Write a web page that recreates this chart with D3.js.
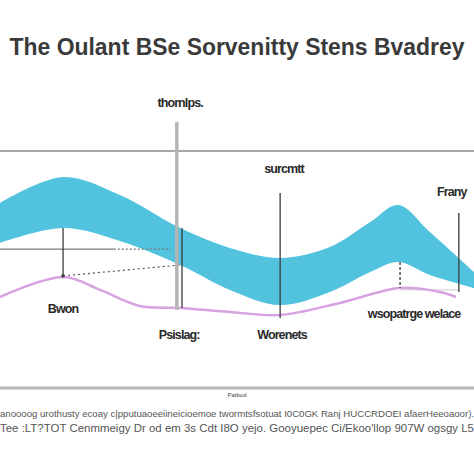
<!DOCTYPE html>
<html>
<head>
<meta charset="utf-8">
<script src="https://cdn.jsdelivr.net/npm/d3@7"></script>
<style>
  body { margin: 0; background: #fff; }
  svg { display: block; font-family: "Liberation Sans", Arial, sans-serif; }
</style>
</head>
<body>
<svg id="visu" width="474" height="474"></svg>
<script>
// band (upper / lower edge) and the pink series, x in 0..100, y in 0..100
var bandX     = [0, 13.3, 25.3, 38, 48.5, 59.1, 69.6, 78.1, 84, 90.7, 100];
var bandUpper = [78.1, 89.0, 81.4, 67.5, 59.1, 54.9, 59.5, 70.0, 77.2, 65.8, 48.9];
var bandLower = [61.2, 67.5, 62.0, 51.9, 41.4, 35.0, 40.5, 48.9, 53.2, 47.7, 42.2];

var pinkX = [0, 13.3, 21.1, 29.5, 38, 48.5, 59.1, 71.7, 84.4, 92.8, 96.2];
var pinkY = [38.4, 46.8, 41.4, 34.6, 33.8, 32.1, 30.8, 35.9, 42.2, 40.5, 38.4];

// vertical markers: x, from, to
var markX    = [37.3, 38.4, 59.1, 96.8, 13.3, 84.4];
var markFrom = [112.2, 67.5, 82.3, 73.8, 67.5, 53.2];
var markTo   = [32.9, 33.8, 29.5, 40.5, 47.3, 42.2];
var markKind = ["gray", "dark", "dark", "dark", "dark", "dash"];

var labels  = ["thornlps.", "surcmtt", "Frany", "Bwon", "Psislag:", "Worenets", "wsopatrge welace"];
var labelX  = [38, 59.9, 92.2, 13.3, 37.8, 59.5, 77.6];
var labelY  = [118.5, 90.7, 81.0, 31.6, 20.7, 20.7, 29.5];
var labelAt = ["middle", "middle", "start", "middle", "middle", "middle", "start"];

var titleText = "The Oulant BSe Sorvenitty Stens Bvadrey";
var footLines = [
  "anoooog urothusty ecoay c|pputuaoeeiineicioemoe twormtsfsotuat I0C0GK Ranj HUCCRDOEI afaerHeeoaoor).",
  "Tee :LT?TOT Cenmmeigy  Dr od em 3s Cdt I8O yejo.  Gooyuepec Ci/Ekoo'llop 907W ogsgy  L5"
];

var vis = d3.select("#visu"),
    WIDTH = 474,
    HEIGHT = 474;

var xScale = d3.scaleLinear().domain([0, 100]).range([0, WIDTH]),
    yScale = d3.scaleLinear().domain([0, 100]).range([388, 151]);

// title
vis.append("text")
  .attr("x", 237).attr("y", 55)
  .attr("text-anchor", "middle")
  .attr("textLength", 455)
  .attr("lengthAdjust", "spacingAndGlyphs")
  .attr("font-size", 23).attr("font-weight", "bold")
  .attr("fill", "#3a3a3a")
  .text(titleText);

// top and bottom rules
vis.append("line")
  .attr("x1", 0).attr("x2", WIDTH)
  .attr("y1", yScale(100)).attr("y2", yScale(100))
  .attr("stroke", "#a8a8a8").attr("stroke-width", 2);
vis.append("line")
  .attr("x1", 0).attr("x2", WIDTH)
  .attr("y1", yScale(0)).attr("y2", yScale(0))
  .attr("stroke", "#b8b8b8").attr("stroke-width", 3);

// blue band
var band = bandX.map(function(x, i) { return { x: x, hi: bandUpper[i], lo: bandLower[i] }; });
var areaGen = d3.area()
  .x(function(d) { return xScale(d.x); })
  .y0(function(d) { return yScale(d.lo); })
  .y1(function(d) { return yScale(d.hi); })
  .curve(d3.curveCatmullRom);
vis.append("path")
  .attr("d", areaGen(band))
  .attr("fill", "#52c3de");

// helper lines left side
vis.append("line")
  .attr("x1", xScale(0)).attr("x2", xScale(24))
  .attr("y1", yScale(58.6)).attr("y2", yScale(58.6))
  .attr("stroke", "#555").attr("stroke-width", 1);
vis.append("line")
  .attr("x1", xScale(24)).attr("x2", xScale(36))
  .attr("y1", yScale(58.6)).attr("y2", yScale(58.6))
  .attr("stroke", "#777").attr("stroke-width", 1.2)
  .attr("stroke-dasharray", "2,2");
vis.append("line")
  .attr("x1", xScale(13.3)).attr("x2", xScale(38))
  .attr("y1", yScale(47.3)).attr("y2", yScale(51.9))
  .attr("stroke", "#555").attr("stroke-width", 1.2)
  .attr("stroke-dasharray", "2,3");
vis.append("line")
  .attr("x1", xScale(84.4)).attr("x2", xScale(96.8))
  .attr("y1", yScale(41.4)).attr("y2", yScale(41.4))
  .attr("stroke", "#ccc").attr("stroke-width", 1);

// pink line
var pink = pinkX.map(function(x, i) { return { x: x, y: pinkY[i] }; });
var lineGen = d3.line()
  .x(function(d) { return xScale(d.x); })
  .y(function(d) { return yScale(d.y); })
  .curve(d3.curveCatmullRom);
vis.append("path")
  .attr("d", lineGen(pink))
  .attr("fill", "none")
  .attr("stroke", "#d6a2e0")
  .attr("stroke-width", 2.5);

// vertical markers
markX.forEach(function(x, i) {
  var k = markKind[i];
  vis.append("line")
    .attr("x1", xScale(x)).attr("x2", xScale(x))
    .attr("y1", yScale(markFrom[i])).attr("y2", yScale(markTo[i]))
    .attr("stroke", k == "gray" ? "#b5b5b5" : "#3a3a3a")
    .attr("stroke-width", k == "gray" ? 3.5 : 1.3)
    .attr("stroke-dasharray", k == "dash" ? "3,2" : null);
});
vis.append("circle")
  .attr("cx", xScale(13.3)).attr("cy", yScale(47.3))
  .attr("r", 1.8).attr("fill", "#444");

// annotations
labels.forEach(function(t, i) {
  vis.append("text")
    .attr("x", xScale(labelX[i])).attr("y", yScale(labelY[i]))
    .attr("text-anchor", labelAt[i])
    .attr("font-size", 12.5)
    .attr("font-weight", "bold")
    .attr("letter-spacing", -0.9)
    .attr("fill", "#2a2a2a")
    .text(t);
});

// axis caption + footnote
vis.append("text")
  .attr("x", 237).attr("y", 397)
  .attr("text-anchor", "middle")
  .attr("font-size", 6).attr("fill", "#444")
  .text("Patbod");
vis.append("text")
  .attr("x", 0).attr("y", 417)
  .attr("textLength", 474).attr("lengthAdjust", "spacingAndGlyphs")
  .attr("font-size", 9).attr("fill", "#555")
  .text(footLines[0]);
vis.append("text")
  .attr("x", 0).attr("y", 432)
  .attr("textLength", 474).attr("lengthAdjust", "spacingAndGlyphs")
  .attr("font-size", 10).attr("fill", "#555")
  .text(footLines[1]);
</script>
</body>
</html>
